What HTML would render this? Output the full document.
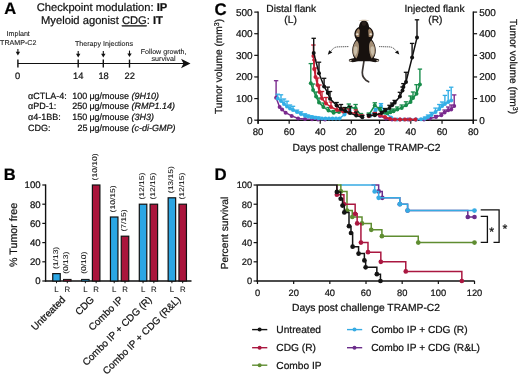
<!DOCTYPE html>
<html><head><meta charset="utf-8"><style>
html,body{margin:0;padding:0;background:#fff;}
svg{display:block;}
text{font-family:"Liberation Sans", Arial, Helvetica, sans-serif;text-rendering:geometricPrecision;stroke:#111;stroke-width:0.22px;paint-order:stroke;}
.sm{stroke-width:0.08px;}
</style></head><body>
<svg width="520" height="376" viewBox="0 0 520 376" font-family='"Liberation Sans", Arial, Helvetica, sans-serif'>
<rect width="520" height="376" fill="#ffffff"/>
<text x="4.2" y="14.3" font-size="16.5" font-weight="bold" fill="#000" >A</text>
<text x="102" y="10.8" font-size="11.2" text-anchor="middle" fill="#111">Checkpoint modulation: <tspan font-weight="bold">IP</tspan></text>
<text x="102" y="24.3" font-size="11.2" text-anchor="middle" fill="#111">Myeloid agonist <tspan text-decoration="underline">CDG</tspan>: <tspan font-weight="bold">IT</tspan></text>
<line x1="17.9" y1="63.5" x2="184" y2="63.5" stroke="#111" stroke-width="1.15" />
<path d="M181,58.8 L190.5,63.5 L181,68.2 L183.5,63.5 Z" fill="#111"/>
<line x1="17.9" y1="59.6" x2="17.9" y2="67.6" stroke="#111" stroke-width="1.4" />
<line x1="78.2" y1="59.6" x2="78.2" y2="67.6" stroke="#111" stroke-width="1.4" />
<line x1="103.3" y1="59.6" x2="103.3" y2="67.6" stroke="#111" stroke-width="1.4" />
<line x1="129.5" y1="59.6" x2="129.5" y2="67.6" stroke="#111" stroke-width="1.4" />
<line x1="17.9" y1="49.0" x2="17.9" y2="52.4" stroke="#111" stroke-width="1.1" />
<path d="M15.7,51.8 L20.099999999999998,51.8 L17.9,55.4 Z" fill="#111"/>
<line x1="78.2" y1="51.0" x2="78.2" y2="54.4" stroke="#111" stroke-width="1.1" />
<path d="M76.0,53.8 L80.4,53.8 L78.2,57.4 Z" fill="#111"/>
<line x1="103.3" y1="51.0" x2="103.3" y2="54.4" stroke="#111" stroke-width="1.1" />
<path d="M101.1,53.8 L105.5,53.8 L103.3,57.4 Z" fill="#111"/>
<line x1="129.5" y1="50.6" x2="129.5" y2="54.0" stroke="#111" stroke-width="1.1" />
<path d="M127.3,53.4 L131.7,53.4 L129.5,57.0 Z" fill="#111"/>
<text x="18.2" y="36.3" font-size="7.1" text-anchor="middle" fill="#111"  class="sm">Implant</text>
<text x="18.2" y="44.5" font-size="7.1" text-anchor="middle" fill="#111"  class="sm">TRAMP-C2</text>
<text x="104" y="46.4" font-size="7.1" text-anchor="middle" fill="#111"  class="sm">Therapy Injections</text>
<text x="163.6" y="53.8" font-size="7.1" text-anchor="middle" fill="#111"  class="sm">Follow growth,</text>
<text x="163.6" y="61.1" font-size="7.1" text-anchor="middle" fill="#111"  class="sm">survival</text>
<text x="17.7" y="79.0" font-size="9.3" text-anchor="middle" fill="#111" >0</text>
<text x="78.2" y="79.0" font-size="9.3" text-anchor="middle" fill="#111" >14</text>
<text x="103.6" y="79.0" font-size="9.3" text-anchor="middle" fill="#111" >18</text>
<text x="129.7" y="79.0" font-size="9.3" text-anchor="middle" fill="#111" >22</text>
<text x="28.0" y="98.8" font-size="9.0" fill="#111" >αCTLA-4:</text>
<text x="87.4" y="98.8" font-size="9.0" text-anchor="end" fill="#111">100</text>
<text x="89.4" y="98.8" font-size="9.0" fill="#111">μg/mouse <tspan font-style="italic">(9H10)</tspan></text>
<text x="28.0" y="109.4" font-size="9.0" fill="#111" >αPD-1:</text>
<text x="87.4" y="109.4" font-size="9.0" text-anchor="end" fill="#111">250</text>
<text x="89.4" y="109.4" font-size="9.0" fill="#111">μg/mouse <tspan font-style="italic">(RMP1.14)</tspan></text>
<text x="28.0" y="120.0" font-size="9.0" fill="#111" >α4-1BB:</text>
<text x="87.4" y="120.0" font-size="9.0" text-anchor="end" fill="#111">150</text>
<text x="89.4" y="120.0" font-size="9.0" fill="#111">μg/mouse <tspan font-style="italic">(3H3)</tspan></text>
<text x="28.0" y="130.5" font-size="9.0" fill="#111" >CDG:</text>
<text x="87.4" y="130.5" font-size="9.0" text-anchor="end" fill="#111">25</text>
<text x="89.4" y="130.5" font-size="9.0" fill="#111">μg/mouse <tspan font-style="italic">(c-di-GMP)</tspan></text>
<text x="3.8" y="179.6" font-size="16.5" font-weight="bold" fill="#000" >B</text>
<line x1="45.6" y1="184.4" x2="45.6" y2="281.6" stroke="#111" stroke-width="1.4" />
<line x1="44.9" y1="281.0" x2="191.5" y2="281.0" stroke="#111" stroke-width="1.4" />
<line x1="42.3" y1="281.0" x2="45.6" y2="281.0" stroke="#111" stroke-width="1.2" />
<text x="40.6" y="284.4" font-size="9.6" text-anchor="end" fill="#111">0</text>
<line x1="42.3" y1="261.8" x2="45.6" y2="261.8" stroke="#111" stroke-width="1.2" />
<text x="40.6" y="265.2" font-size="9.6" text-anchor="end" fill="#111">20</text>
<line x1="42.3" y1="242.6" x2="45.6" y2="242.6" stroke="#111" stroke-width="1.2" />
<text x="40.6" y="246.0" font-size="9.6" text-anchor="end" fill="#111">40</text>
<line x1="42.3" y1="223.4" x2="45.6" y2="223.4" stroke="#111" stroke-width="1.2" />
<text x="40.6" y="226.8" font-size="9.6" text-anchor="end" fill="#111">60</text>
<line x1="42.3" y1="204.2" x2="45.6" y2="204.2" stroke="#111" stroke-width="1.2" />
<text x="40.6" y="207.6" font-size="9.6" text-anchor="end" fill="#111">80</text>
<line x1="42.3" y1="185.0" x2="45.6" y2="185.0" stroke="#111" stroke-width="1.2" />
<text x="40.6" y="188.4" font-size="9.6" text-anchor="end" fill="#111">100</text>
<text transform="translate(17.2,234.9) rotate(-90)" font-size="10.7" text-anchor="middle" fill="#111">% Tumor free</text>
<rect x="52.75" y="273.62" width="7.5" height="7.38" fill="#2ba6e4" stroke="#111" stroke-width="1.2"/>
<line x1="56.5" y1="281" x2="56.5" y2="283.2" stroke="#111" stroke-width="1.0" />
<text transform="translate(57.55,269.02) rotate(-90) scale(1.15,0.93)" font-size="7.4" fill="#111" class="sm">(1/13)</text>
<text x="56.50" y="291.8" font-size="7.8" text-anchor="middle" fill="#111"  class="sm">L</text>
<rect x="63.55" y="279.40" width="7.5" height="1.6" fill="#aa153c" stroke="#111" stroke-width="1.0"/>
<line x1="67.3" y1="281" x2="67.3" y2="283.2" stroke="#111" stroke-width="1.0" />
<text transform="translate(68.35,273.80) rotate(-90) scale(1.15,0.93)" font-size="7.4" fill="#111" class="sm">(0/13)</text>
<text x="67.30" y="291.8" font-size="7.8" text-anchor="middle" fill="#111"  class="sm">R</text>
<text transform="translate(65.90,300.3) rotate(-45)" font-size="9.9" text-anchor="end" fill="#111">Untreated</text>
<rect x="81.60" y="279.40" width="7.5" height="1.6" fill="#2ba6e4" stroke="#111" stroke-width="1.0"/>
<line x1="85.35" y1="281" x2="85.35" y2="283.2" stroke="#111" stroke-width="1.0" />
<text transform="translate(86.40,273.80) rotate(-90) scale(1.15,0.93)" font-size="7.4" fill="#111" class="sm">(0/10)</text>
<text x="85.35" y="291.8" font-size="7.8" text-anchor="middle" fill="#111"  class="sm">L</text>
<rect x="92.40" y="185.00" width="7.5" height="96.00" fill="#aa153c" stroke="#111" stroke-width="1.2"/>
<line x1="96.14999999999999" y1="281" x2="96.14999999999999" y2="283.2" stroke="#111" stroke-width="1.0" />
<text transform="translate(97.20,180.40) rotate(-90) scale(1.15,0.93)" font-size="7.4" fill="#111" class="sm">(10/10)</text>
<text x="96.15" y="291.8" font-size="7.8" text-anchor="middle" fill="#111"  class="sm">R</text>
<text transform="translate(94.75,300.3) rotate(-45)" font-size="9.9" text-anchor="end" fill="#111">CDG</text>
<rect x="110.45" y="217.00" width="7.5" height="64.00" fill="#2ba6e4" stroke="#111" stroke-width="1.2"/>
<line x1="114.2" y1="281" x2="114.2" y2="283.2" stroke="#111" stroke-width="1.0" />
<text transform="translate(115.25,212.40) rotate(-90) scale(1.15,0.93)" font-size="7.4" fill="#111" class="sm">(10/15)</text>
<text x="114.20" y="291.8" font-size="7.8" text-anchor="middle" fill="#111"  class="sm">L</text>
<rect x="121.25" y="236.20" width="7.5" height="44.80" fill="#aa153c" stroke="#111" stroke-width="1.2"/>
<line x1="125.0" y1="281" x2="125.0" y2="283.2" stroke="#111" stroke-width="1.0" />
<text transform="translate(126.05,231.60) rotate(-90) scale(1.15,0.93)" font-size="7.4" fill="#111" class="sm">(7/15)</text>
<text x="125.00" y="291.8" font-size="7.8" text-anchor="middle" fill="#111"  class="sm">R</text>
<text transform="translate(123.60,300.3) rotate(-45)" font-size="9.9" text-anchor="end" fill="#111">Combo IP</text>
<rect x="139.30" y="204.20" width="7.5" height="76.80" fill="#2ba6e4" stroke="#111" stroke-width="1.2"/>
<line x1="143.05" y1="281" x2="143.05" y2="283.2" stroke="#111" stroke-width="1.0" />
<text transform="translate(144.10,199.60) rotate(-90) scale(1.15,0.93)" font-size="7.4" fill="#111" class="sm">(12/15)</text>
<text x="143.05" y="291.8" font-size="7.8" text-anchor="middle" fill="#111"  class="sm">L</text>
<rect x="150.10" y="204.20" width="7.5" height="76.80" fill="#aa153c" stroke="#111" stroke-width="1.2"/>
<line x1="153.85000000000002" y1="281" x2="153.85000000000002" y2="283.2" stroke="#111" stroke-width="1.0" />
<text transform="translate(154.90,199.60) rotate(-90) scale(1.15,0.93)" font-size="7.4" fill="#111" class="sm">(12/15)</text>
<text x="153.85" y="291.8" font-size="7.8" text-anchor="middle" fill="#111"  class="sm">R</text>
<text transform="translate(152.45,300.3) rotate(-45)" font-size="9.9" text-anchor="end" fill="#111">Combo IP + CDG (R)</text>
<rect x="168.15" y="197.80" width="7.5" height="83.20" fill="#2ba6e4" stroke="#111" stroke-width="1.2"/>
<line x1="171.9" y1="281" x2="171.9" y2="283.2" stroke="#111" stroke-width="1.0" />
<text transform="translate(172.95,193.20) rotate(-90) scale(1.15,0.93)" font-size="7.4" fill="#111" class="sm">(13/15)</text>
<text x="171.90" y="291.8" font-size="7.8" text-anchor="middle" fill="#111"  class="sm">L</text>
<rect x="178.95" y="204.20" width="7.5" height="76.80" fill="#aa153c" stroke="#111" stroke-width="1.2"/>
<line x1="182.70000000000002" y1="281" x2="182.70000000000002" y2="283.2" stroke="#111" stroke-width="1.0" />
<text transform="translate(183.75,199.60) rotate(-90) scale(1.15,0.93)" font-size="7.4" fill="#111" class="sm">(12/15)</text>
<text x="182.70" y="291.8" font-size="7.8" text-anchor="middle" fill="#111"  class="sm">R</text>
<text transform="translate(181.30,300.3) rotate(-45)" font-size="9.9" text-anchor="end" fill="#111">Combo IP + CDG (R&amp;L)</text>
<text x="214.6" y="14.9" font-size="16.8" font-weight="bold" fill="#000" >C</text>
<line x1="258.1" y1="11.5" x2="258.1" y2="123.8" stroke="#111" stroke-width="1.4" />
<line x1="254.3" y1="120.2" x2="258.1" y2="120.2" stroke="#111" stroke-width="1.2" />
<text x="252.6" y="123.65" font-size="10" text-anchor="end" fill="#111">0</text>
<line x1="254.3" y1="98.58" x2="258.1" y2="98.58" stroke="#111" stroke-width="1.2" />
<text x="252.6" y="102.03" font-size="10" text-anchor="end" fill="#111">100</text>
<line x1="254.3" y1="76.96000000000001" x2="258.1" y2="76.96000000000001" stroke="#111" stroke-width="1.2" />
<text x="252.6" y="80.41" font-size="10" text-anchor="end" fill="#111">200</text>
<line x1="254.3" y1="55.34" x2="258.1" y2="55.34" stroke="#111" stroke-width="1.2" />
<text x="252.6" y="58.79" font-size="10" text-anchor="end" fill="#111">300</text>
<line x1="254.3" y1="33.72" x2="258.1" y2="33.72" stroke="#111" stroke-width="1.2" />
<text x="252.6" y="37.17" font-size="10" text-anchor="end" fill="#111">400</text>
<line x1="254.3" y1="12.099999999999994" x2="258.1" y2="12.099999999999994" stroke="#111" stroke-width="1.2" />
<text x="252.6" y="15.55" font-size="10" text-anchor="end" fill="#111">500</text>
<line x1="473.3" y1="11.5" x2="473.3" y2="123.8" stroke="#111" stroke-width="1.4" />
<line x1="473.3" y1="120.2" x2="477.1" y2="120.2" stroke="#111" stroke-width="1.2" />
<text x="479.2" y="123.65" font-size="10" fill="#111">0</text>
<line x1="473.3" y1="98.58" x2="477.1" y2="98.58" stroke="#111" stroke-width="1.2" />
<text x="479.2" y="102.03" font-size="10" fill="#111">100</text>
<line x1="473.3" y1="76.96000000000001" x2="477.1" y2="76.96000000000001" stroke="#111" stroke-width="1.2" />
<text x="479.2" y="80.41" font-size="10" fill="#111">200</text>
<line x1="473.3" y1="55.34" x2="477.1" y2="55.34" stroke="#111" stroke-width="1.2" />
<text x="479.2" y="58.79" font-size="10" fill="#111">300</text>
<line x1="473.3" y1="33.72" x2="477.1" y2="33.72" stroke="#111" stroke-width="1.2" />
<text x="479.2" y="37.17" font-size="10" fill="#111">400</text>
<line x1="473.3" y1="12.099999999999994" x2="477.1" y2="12.099999999999994" stroke="#111" stroke-width="1.2" />
<text x="479.2" y="15.55" font-size="10" fill="#111">500</text>
<line x1="257.40000000000003" y1="120.2" x2="474.0" y2="120.2" stroke="#111" stroke-width="1.4" />
<line x1="258.1" y1="120.2" x2="258.1" y2="123.8" stroke="#111" stroke-width="1.2" />
<text x="258.10" y="135.4" font-size="9.6" text-anchor="middle" fill="#111" >80</text>
<line x1="289.17" y1="120.2" x2="289.17" y2="123.8" stroke="#111" stroke-width="1.2" />
<text x="289.17" y="135.4" font-size="9.6" text-anchor="middle" fill="#111" >60</text>
<line x1="320.24" y1="120.2" x2="320.24" y2="123.8" stroke="#111" stroke-width="1.2" />
<text x="320.24" y="135.4" font-size="9.6" text-anchor="middle" fill="#111" >40</text>
<line x1="351.31000000000006" y1="120.2" x2="351.31000000000006" y2="123.8" stroke="#111" stroke-width="1.2" />
<text x="351.31" y="135.4" font-size="9.6" text-anchor="middle" fill="#111" >20</text>
<line x1="379.5" y1="120.2" x2="379.5" y2="123.8" stroke="#111" stroke-width="1.2" />
<text x="379.50" y="135.4" font-size="9.6" text-anchor="middle" fill="#111" >20</text>
<line x1="410.77" y1="120.2" x2="410.77" y2="123.8" stroke="#111" stroke-width="1.2" />
<text x="410.77" y="135.4" font-size="9.6" text-anchor="middle" fill="#111" >40</text>
<line x1="442.04" y1="120.2" x2="442.04" y2="123.8" stroke="#111" stroke-width="1.2" />
<text x="442.04" y="135.4" font-size="9.6" text-anchor="middle" fill="#111" >60</text>
<line x1="473.31" y1="120.2" x2="473.31" y2="123.8" stroke="#111" stroke-width="1.2" />
<text x="473.31" y="135.4" font-size="9.6" text-anchor="middle" fill="#111" >80</text>
<text x="366.5" y="150.8" font-size="10.3" text-anchor="middle" fill="#111" >Days post challenge TRAMP-C2</text>
<text x="291.2" y="12.0" font-size="10.2" text-anchor="middle" fill="#111" >Distal flank</text>
<text x="290.6" y="23.2" font-size="10.2" text-anchor="middle" fill="#111" >(L)</text>
<text x="434.5" y="12.0" font-size="10.2" text-anchor="middle" fill="#111" >Injected flank</text>
<text x="435.4" y="23.2" font-size="10.2" text-anchor="middle" fill="#111" >(R)</text>
<text transform="translate(222.0,66.5) rotate(-90)" font-size="10.2" text-anchor="middle" fill="#111">Tumor volume (mm<tspan font-size="7" dy="-3.5">3</tspan><tspan dy="3.5">)</tspan></text>
<text transform="translate(509.8,66.5) rotate(90)" font-size="10.2" text-anchor="middle" fill="#111">Tumor volume (mm<tspan font-size="7" dy="-3.5">3</tspan><tspan dy="3.5">)</tspan></text>
<polyline points="325,119.6 318,119.4 312,119.2 305,118.9 298.1,118.4 291.7,115.9 285.6,112.7 282.1,109.5 279.6,106.9 276.1,97.7" fill="none" stroke="#7a2a8e" stroke-width="1.5"/>
<line x1="276.1" y1="97.7" x2="276.1" y2="80.7" stroke="#7a2a8e" stroke-width="1.4"/>
<line x1="273.90000000000003" y1="80.7" x2="278.3" y2="80.7" stroke="#7a2a8e" stroke-width="1.3"/>
<circle cx="325" cy="119.6" r="2.0" fill="#7a2a8e"/>
<circle cx="318" cy="119.4" r="2.0" fill="#7a2a8e"/>
<circle cx="312" cy="119.2" r="2.0" fill="#7a2a8e"/>
<circle cx="305" cy="118.9" r="2.0" fill="#7a2a8e"/>
<circle cx="298.1" cy="118.4" r="2.0" fill="#7a2a8e"/>
<circle cx="291.7" cy="115.9" r="2.0" fill="#7a2a8e"/>
<circle cx="285.6" cy="112.7" r="2.0" fill="#7a2a8e"/>
<circle cx="282.1" cy="109.5" r="2.0" fill="#7a2a8e"/>
<circle cx="279.6" cy="106.9" r="2.0" fill="#7a2a8e"/>
<circle cx="276.1" cy="97.7" r="2.0" fill="#7a2a8e"/>
<polyline points="349.5,110.2 344.5,114.5 339.5,118.6 336,118.6 332.5,118.6 329,118.6 325.5,118.5 322,118.4 318.5,118.2 315,117.8 311.5,117.3 308,116.6 305,115.8 301,114.0 297,112.0 293,110.0 290,108.5 287,106.5 284,104.0 281,101.0 277.7,98.6" fill="none" stroke="#33aee6" stroke-width="1.5"/>
<line x1="349.5" y1="110.2" x2="349.5" y2="108" stroke="#33aee6" stroke-width="1.4"/>
<line x1="347.3" y1="108" x2="351.7" y2="108" stroke="#33aee6" stroke-width="1.3"/>
<line x1="344.5" y1="114.5" x2="344.5" y2="112.5" stroke="#33aee6" stroke-width="1.4"/>
<line x1="342.3" y1="112.5" x2="346.7" y2="112.5" stroke="#33aee6" stroke-width="1.3"/>
<line x1="318.5" y1="118.2" x2="318.5" y2="117" stroke="#33aee6" stroke-width="1.4"/>
<line x1="316.3" y1="117" x2="320.7" y2="117" stroke="#33aee6" stroke-width="1.3"/>
<line x1="315" y1="117.8" x2="315" y2="116.5" stroke="#33aee6" stroke-width="1.4"/>
<line x1="312.8" y1="116.5" x2="317.2" y2="116.5" stroke="#33aee6" stroke-width="1.3"/>
<line x1="311.5" y1="117.3" x2="311.5" y2="115.8" stroke="#33aee6" stroke-width="1.4"/>
<line x1="309.3" y1="115.8" x2="313.7" y2="115.8" stroke="#33aee6" stroke-width="1.3"/>
<line x1="308" y1="116.6" x2="308" y2="115" stroke="#33aee6" stroke-width="1.4"/>
<line x1="305.8" y1="115" x2="310.2" y2="115" stroke="#33aee6" stroke-width="1.3"/>
<line x1="305" y1="115.8" x2="305" y2="113.8" stroke="#33aee6" stroke-width="1.4"/>
<line x1="302.8" y1="113.8" x2="307.2" y2="113.8" stroke="#33aee6" stroke-width="1.3"/>
<line x1="301" y1="114.0" x2="301" y2="111.8" stroke="#33aee6" stroke-width="1.4"/>
<line x1="298.8" y1="111.8" x2="303.2" y2="111.8" stroke="#33aee6" stroke-width="1.3"/>
<line x1="297" y1="112.0" x2="297" y2="110.1" stroke="#33aee6" stroke-width="1.4"/>
<line x1="294.8" y1="110.1" x2="299.2" y2="110.1" stroke="#33aee6" stroke-width="1.3"/>
<line x1="293" y1="110.0" x2="293" y2="106.3" stroke="#33aee6" stroke-width="1.4"/>
<line x1="290.8" y1="106.3" x2="295.2" y2="106.3" stroke="#33aee6" stroke-width="1.3"/>
<line x1="290" y1="108.5" x2="290" y2="105" stroke="#33aee6" stroke-width="1.4"/>
<line x1="287.8" y1="105" x2="292.2" y2="105" stroke="#33aee6" stroke-width="1.3"/>
<line x1="287" y1="106.5" x2="287" y2="101.2" stroke="#33aee6" stroke-width="1.4"/>
<line x1="284.8" y1="101.2" x2="289.2" y2="101.2" stroke="#33aee6" stroke-width="1.3"/>
<line x1="284" y1="104.0" x2="284" y2="99.0" stroke="#33aee6" stroke-width="1.4"/>
<line x1="281.8" y1="99.0" x2="286.2" y2="99.0" stroke="#33aee6" stroke-width="1.3"/>
<line x1="281" y1="101.0" x2="281" y2="94.8" stroke="#33aee6" stroke-width="1.4"/>
<line x1="278.8" y1="94.8" x2="283.2" y2="94.8" stroke="#33aee6" stroke-width="1.3"/>
<line x1="277.7" y1="98.6" x2="277.7" y2="94.2" stroke="#33aee6" stroke-width="1.4"/>
<line x1="275.5" y1="94.2" x2="279.9" y2="94.2" stroke="#33aee6" stroke-width="1.3"/>
<circle cx="349.5" cy="110.2" r="2.0" fill="#33aee6"/>
<circle cx="344.5" cy="114.5" r="2.0" fill="#33aee6"/>
<circle cx="339.5" cy="118.6" r="2.0" fill="#33aee6"/>
<circle cx="336" cy="118.6" r="2.0" fill="#33aee6"/>
<circle cx="332.5" cy="118.6" r="2.0" fill="#33aee6"/>
<circle cx="329" cy="118.6" r="2.0" fill="#33aee6"/>
<circle cx="325.5" cy="118.5" r="2.0" fill="#33aee6"/>
<circle cx="322" cy="118.4" r="2.0" fill="#33aee6"/>
<circle cx="318.5" cy="118.2" r="2.0" fill="#33aee6"/>
<circle cx="315" cy="117.8" r="2.0" fill="#33aee6"/>
<circle cx="311.5" cy="117.3" r="2.0" fill="#33aee6"/>
<circle cx="308" cy="116.6" r="2.0" fill="#33aee6"/>
<circle cx="305" cy="115.8" r="2.0" fill="#33aee6"/>
<circle cx="301" cy="114.0" r="2.0" fill="#33aee6"/>
<circle cx="297" cy="112.0" r="2.0" fill="#33aee6"/>
<circle cx="293" cy="110.0" r="2.0" fill="#33aee6"/>
<circle cx="290" cy="108.5" r="2.0" fill="#33aee6"/>
<circle cx="287" cy="106.5" r="2.0" fill="#33aee6"/>
<circle cx="284" cy="104.0" r="2.0" fill="#33aee6"/>
<circle cx="281" cy="101.0" r="2.0" fill="#33aee6"/>
<circle cx="277.7" cy="98.6" r="2.0" fill="#33aee6"/>
<polyline points="361,115.5 355.6,108.3 348.8,107.2 344,110.0 339,112.0 333.6,112.7 328.5,110.5 323.4,106.9 319,102.5 316.1,96.6 313.1,90.0 310.8,83.2" fill="none" stroke="#178c4a" stroke-width="1.5"/>
<line x1="361" y1="115.5" x2="361" y2="113.5" stroke="#178c4a" stroke-width="1.4"/>
<line x1="358.8" y1="113.5" x2="363.2" y2="113.5" stroke="#178c4a" stroke-width="1.3"/>
<line x1="355.6" y1="108.3" x2="355.6" y2="104.5" stroke="#178c4a" stroke-width="1.4"/>
<line x1="353.40000000000003" y1="104.5" x2="357.8" y2="104.5" stroke="#178c4a" stroke-width="1.3"/>
<line x1="348.8" y1="107.2" x2="348.8" y2="104" stroke="#178c4a" stroke-width="1.4"/>
<line x1="346.6" y1="104" x2="351.0" y2="104" stroke="#178c4a" stroke-width="1.3"/>
<line x1="344" y1="110.0" x2="344" y2="107.5" stroke="#178c4a" stroke-width="1.4"/>
<line x1="341.8" y1="107.5" x2="346.2" y2="107.5" stroke="#178c4a" stroke-width="1.3"/>
<line x1="339" y1="112.0" x2="339" y2="110" stroke="#178c4a" stroke-width="1.4"/>
<line x1="336.8" y1="110" x2="341.2" y2="110" stroke="#178c4a" stroke-width="1.3"/>
<line x1="333.6" y1="112.7" x2="333.6" y2="110.5" stroke="#178c4a" stroke-width="1.4"/>
<line x1="331.40000000000003" y1="110.5" x2="335.8" y2="110.5" stroke="#178c4a" stroke-width="1.3"/>
<line x1="328.5" y1="110.5" x2="328.5" y2="107.5" stroke="#178c4a" stroke-width="1.4"/>
<line x1="326.3" y1="107.5" x2="330.7" y2="107.5" stroke="#178c4a" stroke-width="1.3"/>
<line x1="323.4" y1="106.9" x2="323.4" y2="103" stroke="#178c4a" stroke-width="1.4"/>
<line x1="321.2" y1="103" x2="325.59999999999997" y2="103" stroke="#178c4a" stroke-width="1.3"/>
<line x1="319" y1="102.5" x2="319" y2="98" stroke="#178c4a" stroke-width="1.4"/>
<line x1="316.8" y1="98" x2="321.2" y2="98" stroke="#178c4a" stroke-width="1.3"/>
<line x1="316.1" y1="96.6" x2="316.1" y2="92" stroke="#178c4a" stroke-width="1.4"/>
<line x1="313.90000000000003" y1="92" x2="318.3" y2="92" stroke="#178c4a" stroke-width="1.3"/>
<line x1="313.1" y1="90.0" x2="313.1" y2="84" stroke="#178c4a" stroke-width="1.4"/>
<line x1="310.90000000000003" y1="84" x2="315.3" y2="84" stroke="#178c4a" stroke-width="1.3"/>
<line x1="310.8" y1="83.2" x2="310.8" y2="63.6" stroke="#178c4a" stroke-width="1.4"/>
<line x1="308.6" y1="63.6" x2="313.0" y2="63.6" stroke="#178c4a" stroke-width="1.3"/>
<circle cx="361" cy="115.5" r="2.0" fill="#178c4a"/>
<circle cx="355.6" cy="108.3" r="2.0" fill="#178c4a"/>
<circle cx="348.8" cy="107.2" r="2.0" fill="#178c4a"/>
<circle cx="344" cy="110.0" r="2.0" fill="#178c4a"/>
<circle cx="339" cy="112.0" r="2.0" fill="#178c4a"/>
<circle cx="333.6" cy="112.7" r="2.0" fill="#178c4a"/>
<circle cx="328.5" cy="110.5" r="2.0" fill="#178c4a"/>
<circle cx="323.4" cy="106.9" r="2.0" fill="#178c4a"/>
<circle cx="319" cy="102.5" r="2.0" fill="#178c4a"/>
<circle cx="316.1" cy="96.6" r="2.0" fill="#178c4a"/>
<circle cx="313.1" cy="90.0" r="2.0" fill="#178c4a"/>
<circle cx="310.8" cy="83.2" r="2.0" fill="#178c4a"/>
<polyline points="362,116.5 355.8,113.3 349,112.5 343,111.5 337,110.0 331,107.0 326,103.5 322,98.5 319.5,92.0 317.5,85.0 315.5,77.0 314.2,69.0 313.4,56.0" fill="none" stroke="#c61f33" stroke-width="1.5"/>
<line x1="362" y1="116.5" x2="362" y2="115" stroke="#c61f33" stroke-width="1.4"/>
<line x1="359.8" y1="115" x2="364.2" y2="115" stroke="#c61f33" stroke-width="1.3"/>
<line x1="355.8" y1="113.3" x2="355.8" y2="110" stroke="#c61f33" stroke-width="1.4"/>
<line x1="353.6" y1="110" x2="358.0" y2="110" stroke="#c61f33" stroke-width="1.3"/>
<line x1="349" y1="112.5" x2="349" y2="109" stroke="#c61f33" stroke-width="1.4"/>
<line x1="346.8" y1="109" x2="351.2" y2="109" stroke="#c61f33" stroke-width="1.3"/>
<line x1="343" y1="111.5" x2="343" y2="108" stroke="#c61f33" stroke-width="1.4"/>
<line x1="340.8" y1="108" x2="345.2" y2="108" stroke="#c61f33" stroke-width="1.3"/>
<line x1="337" y1="110.0" x2="337" y2="105.5" stroke="#c61f33" stroke-width="1.4"/>
<line x1="334.8" y1="105.5" x2="339.2" y2="105.5" stroke="#c61f33" stroke-width="1.3"/>
<line x1="331" y1="107.0" x2="331" y2="102" stroke="#c61f33" stroke-width="1.4"/>
<line x1="328.8" y1="102" x2="333.2" y2="102" stroke="#c61f33" stroke-width="1.3"/>
<line x1="326" y1="103.5" x2="326" y2="97.5" stroke="#c61f33" stroke-width="1.4"/>
<line x1="323.8" y1="97.5" x2="328.2" y2="97.5" stroke="#c61f33" stroke-width="1.3"/>
<line x1="322" y1="98.5" x2="322" y2="91.5" stroke="#c61f33" stroke-width="1.4"/>
<line x1="319.8" y1="91.5" x2="324.2" y2="91.5" stroke="#c61f33" stroke-width="1.3"/>
<line x1="319.5" y1="92.0" x2="319.5" y2="85" stroke="#c61f33" stroke-width="1.4"/>
<line x1="317.3" y1="85" x2="321.7" y2="85" stroke="#c61f33" stroke-width="1.3"/>
<line x1="317.5" y1="85.0" x2="317.5" y2="78" stroke="#c61f33" stroke-width="1.4"/>
<line x1="315.3" y1="78" x2="319.7" y2="78" stroke="#c61f33" stroke-width="1.3"/>
<line x1="315.5" y1="77.0" x2="315.5" y2="68" stroke="#c61f33" stroke-width="1.4"/>
<line x1="313.3" y1="68" x2="317.7" y2="68" stroke="#c61f33" stroke-width="1.3"/>
<line x1="314.2" y1="69.0" x2="314.2" y2="60" stroke="#c61f33" stroke-width="1.4"/>
<line x1="312.0" y1="60" x2="316.4" y2="60" stroke="#c61f33" stroke-width="1.3"/>
<line x1="313.4" y1="56.0" x2="313.4" y2="45" stroke="#c61f33" stroke-width="1.4"/>
<line x1="311.2" y1="45" x2="315.59999999999997" y2="45" stroke="#c61f33" stroke-width="1.3"/>
<circle cx="362" cy="116.5" r="2.0" fill="#c61f33"/>
<circle cx="355.8" cy="113.3" r="2.0" fill="#c61f33"/>
<circle cx="349" cy="112.5" r="2.0" fill="#c61f33"/>
<circle cx="343" cy="111.5" r="2.0" fill="#c61f33"/>
<circle cx="337" cy="110.0" r="2.0" fill="#c61f33"/>
<circle cx="331" cy="107.0" r="2.0" fill="#c61f33"/>
<circle cx="326" cy="103.5" r="2.0" fill="#c61f33"/>
<circle cx="322" cy="98.5" r="2.0" fill="#c61f33"/>
<circle cx="319.5" cy="92.0" r="2.0" fill="#c61f33"/>
<circle cx="317.5" cy="85.0" r="2.0" fill="#c61f33"/>
<circle cx="315.5" cy="77.0" r="2.0" fill="#c61f33"/>
<circle cx="314.2" cy="69.0" r="2.0" fill="#c61f33"/>
<circle cx="313.4" cy="56.0" r="2.0" fill="#c61f33"/>
<polyline points="362.3,117.3 356.2,115.6 350.1,113.1 345.3,111.0 341,109.0 336.6,105.4 330,98.8 327.8,93.0 324.1,86.4 319,73.2 313.7,53.0" fill="none" stroke="#111111" stroke-width="1.5"/>
<line x1="362.3" y1="117.3" x2="362.3" y2="115.5" stroke="#111111" stroke-width="1.4"/>
<line x1="360.1" y1="115.5" x2="364.5" y2="115.5" stroke="#111111" stroke-width="1.3"/>
<line x1="356.2" y1="115.6" x2="356.2" y2="112" stroke="#111111" stroke-width="1.4"/>
<line x1="354.0" y1="112" x2="358.4" y2="112" stroke="#111111" stroke-width="1.3"/>
<line x1="350.1" y1="113.1" x2="350.1" y2="106.3" stroke="#111111" stroke-width="1.4"/>
<line x1="347.90000000000003" y1="106.3" x2="352.3" y2="106.3" stroke="#111111" stroke-width="1.3"/>
<line x1="345.3" y1="111.0" x2="345.3" y2="107.6" stroke="#111111" stroke-width="1.4"/>
<line x1="343.1" y1="107.6" x2="347.5" y2="107.6" stroke="#111111" stroke-width="1.3"/>
<line x1="341" y1="109.0" x2="341" y2="104.5" stroke="#111111" stroke-width="1.4"/>
<line x1="338.8" y1="104.5" x2="343.2" y2="104.5" stroke="#111111" stroke-width="1.3"/>
<line x1="336.6" y1="105.4" x2="336.6" y2="102.5" stroke="#111111" stroke-width="1.4"/>
<line x1="334.40000000000003" y1="102.5" x2="338.8" y2="102.5" stroke="#111111" stroke-width="1.3"/>
<line x1="330" y1="98.8" x2="330" y2="91.5" stroke="#111111" stroke-width="1.4"/>
<line x1="327.8" y1="91.5" x2="332.2" y2="91.5" stroke="#111111" stroke-width="1.3"/>
<line x1="327.8" y1="93.0" x2="327.8" y2="87.1" stroke="#111111" stroke-width="1.4"/>
<line x1="325.6" y1="87.1" x2="330.0" y2="87.1" stroke="#111111" stroke-width="1.3"/>
<line x1="324.1" y1="86.4" x2="324.1" y2="78.3" stroke="#111111" stroke-width="1.4"/>
<line x1="321.90000000000003" y1="78.3" x2="326.3" y2="78.3" stroke="#111111" stroke-width="1.3"/>
<line x1="319" y1="73.2" x2="319" y2="62.2" stroke="#111111" stroke-width="1.4"/>
<line x1="316.8" y1="62.2" x2="321.2" y2="62.2" stroke="#111111" stroke-width="1.3"/>
<line x1="313.7" y1="53.0" x2="313.7" y2="38.3" stroke="#111111" stroke-width="1.4"/>
<line x1="311.5" y1="38.3" x2="315.9" y2="38.3" stroke="#111111" stroke-width="1.3"/>
<circle cx="362.3" cy="117.3" r="2.0" fill="#111111"/>
<circle cx="356.2" cy="115.6" r="2.0" fill="#111111"/>
<circle cx="350.1" cy="113.1" r="2.0" fill="#111111"/>
<circle cx="345.3" cy="111.0" r="2.0" fill="#111111"/>
<circle cx="341" cy="109.0" r="2.0" fill="#111111"/>
<circle cx="336.6" cy="105.4" r="2.0" fill="#111111"/>
<circle cx="330" cy="98.8" r="2.0" fill="#111111"/>
<circle cx="327.8" cy="93.0" r="2.0" fill="#111111"/>
<circle cx="324.1" cy="86.4" r="2.0" fill="#111111"/>
<circle cx="319" cy="73.2" r="2.0" fill="#111111"/>
<circle cx="313.7" cy="53.0" r="2.0" fill="#111111"/>
<polyline points="380,116 386,118.5 392,119.5 400,119.6 408,119.6 416,119.6 424,119.6 430,118.5 436,117 441.3,115.2 444.6,112.4 448.2,110.2 451.2,109.4 454.2,106.1" fill="none" stroke="#7a2a8e" stroke-width="1.5"/>
<line x1="380" y1="116" x2="380" y2="114" stroke="#7a2a8e" stroke-width="1.4"/>
<line x1="377.8" y1="114" x2="382.2" y2="114" stroke="#7a2a8e" stroke-width="1.3"/>
<line x1="436" y1="117" x2="436" y2="115.5" stroke="#7a2a8e" stroke-width="1.4"/>
<line x1="433.8" y1="115.5" x2="438.2" y2="115.5" stroke="#7a2a8e" stroke-width="1.3"/>
<line x1="441.3" y1="115.2" x2="441.3" y2="113" stroke="#7a2a8e" stroke-width="1.4"/>
<line x1="439.1" y1="113" x2="443.5" y2="113" stroke="#7a2a8e" stroke-width="1.3"/>
<line x1="444.6" y1="112.4" x2="444.6" y2="110" stroke="#7a2a8e" stroke-width="1.4"/>
<line x1="442.40000000000003" y1="110" x2="446.8" y2="110" stroke="#7a2a8e" stroke-width="1.3"/>
<line x1="448.2" y1="110.2" x2="448.2" y2="107" stroke="#7a2a8e" stroke-width="1.4"/>
<line x1="446.0" y1="107" x2="450.4" y2="107" stroke="#7a2a8e" stroke-width="1.3"/>
<line x1="451.2" y1="109.4" x2="451.2" y2="105" stroke="#7a2a8e" stroke-width="1.4"/>
<line x1="449.0" y1="105" x2="453.4" y2="105" stroke="#7a2a8e" stroke-width="1.3"/>
<line x1="454.2" y1="106.1" x2="454.2" y2="94.9" stroke="#7a2a8e" stroke-width="1.4"/>
<line x1="452.0" y1="94.9" x2="456.4" y2="94.9" stroke="#7a2a8e" stroke-width="1.3"/>
<circle cx="380" cy="116" r="2.0" fill="#7a2a8e"/>
<circle cx="386" cy="118.5" r="2.0" fill="#7a2a8e"/>
<circle cx="392" cy="119.5" r="2.0" fill="#7a2a8e"/>
<circle cx="400" cy="119.6" r="2.0" fill="#7a2a8e"/>
<circle cx="408" cy="119.6" r="2.0" fill="#7a2a8e"/>
<circle cx="416" cy="119.6" r="2.0" fill="#7a2a8e"/>
<circle cx="424" cy="119.6" r="2.0" fill="#7a2a8e"/>
<circle cx="430" cy="118.5" r="2.0" fill="#7a2a8e"/>
<circle cx="436" cy="117" r="2.0" fill="#7a2a8e"/>
<circle cx="441.3" cy="115.2" r="2.0" fill="#7a2a8e"/>
<circle cx="444.6" cy="112.4" r="2.0" fill="#7a2a8e"/>
<circle cx="448.2" cy="110.2" r="2.0" fill="#7a2a8e"/>
<circle cx="451.2" cy="109.4" r="2.0" fill="#7a2a8e"/>
<circle cx="454.2" cy="106.1" r="2.0" fill="#7a2a8e"/>
<polyline points="370,116 375.5,110.5 381,106 386,113 391,117.5 397,119.4 404,119.6 410,119.6 416,119.6 421,119.3 425,118.5 428,117 431.4,115 435.5,112 439.3,109 442.1,106 444.9,104 448.2,102 451.2,100.4" fill="none" stroke="#33aee6" stroke-width="1.5"/>
<line x1="375.5" y1="110.5" x2="375.5" y2="108.5" stroke="#33aee6" stroke-width="1.4"/>
<line x1="373.3" y1="108.5" x2="377.7" y2="108.5" stroke="#33aee6" stroke-width="1.3"/>
<line x1="381" y1="106" x2="381" y2="103.6" stroke="#33aee6" stroke-width="1.4"/>
<line x1="378.8" y1="103.6" x2="383.2" y2="103.6" stroke="#33aee6" stroke-width="1.3"/>
<line x1="386" y1="113" x2="386" y2="111" stroke="#33aee6" stroke-width="1.4"/>
<line x1="383.8" y1="111" x2="388.2" y2="111" stroke="#33aee6" stroke-width="1.3"/>
<line x1="425" y1="118.5" x2="425" y2="117" stroke="#33aee6" stroke-width="1.4"/>
<line x1="422.8" y1="117" x2="427.2" y2="117" stroke="#33aee6" stroke-width="1.3"/>
<line x1="428" y1="117" x2="428" y2="115" stroke="#33aee6" stroke-width="1.4"/>
<line x1="425.8" y1="115" x2="430.2" y2="115" stroke="#33aee6" stroke-width="1.3"/>
<line x1="431.4" y1="115" x2="431.4" y2="112.4" stroke="#33aee6" stroke-width="1.4"/>
<line x1="429.2" y1="112.4" x2="433.59999999999997" y2="112.4" stroke="#33aee6" stroke-width="1.3"/>
<line x1="435.5" y1="112" x2="435.5" y2="108.1" stroke="#33aee6" stroke-width="1.4"/>
<line x1="433.3" y1="108.1" x2="437.7" y2="108.1" stroke="#33aee6" stroke-width="1.3"/>
<line x1="439.3" y1="109" x2="439.3" y2="104.5" stroke="#33aee6" stroke-width="1.4"/>
<line x1="437.1" y1="104.5" x2="441.5" y2="104.5" stroke="#33aee6" stroke-width="1.3"/>
<line x1="442.1" y1="106" x2="442.1" y2="102" stroke="#33aee6" stroke-width="1.4"/>
<line x1="439.90000000000003" y1="102" x2="444.3" y2="102" stroke="#33aee6" stroke-width="1.3"/>
<line x1="444.9" y1="104" x2="444.9" y2="95.4" stroke="#33aee6" stroke-width="1.4"/>
<line x1="442.7" y1="95.4" x2="447.09999999999997" y2="95.4" stroke="#33aee6" stroke-width="1.3"/>
<line x1="448.2" y1="102" x2="448.2" y2="90.5" stroke="#33aee6" stroke-width="1.4"/>
<line x1="446.0" y1="90.5" x2="450.4" y2="90.5" stroke="#33aee6" stroke-width="1.3"/>
<line x1="451.2" y1="100.4" x2="451.2" y2="87.2" stroke="#33aee6" stroke-width="1.4"/>
<line x1="449.0" y1="87.2" x2="453.4" y2="87.2" stroke="#33aee6" stroke-width="1.3"/>
<circle cx="370" cy="116" r="2.0" fill="#33aee6"/>
<circle cx="375.5" cy="110.5" r="2.0" fill="#33aee6"/>
<circle cx="381" cy="106" r="2.0" fill="#33aee6"/>
<circle cx="386" cy="113" r="2.0" fill="#33aee6"/>
<circle cx="391" cy="117.5" r="2.0" fill="#33aee6"/>
<circle cx="397" cy="119.4" r="2.0" fill="#33aee6"/>
<circle cx="404" cy="119.6" r="2.0" fill="#33aee6"/>
<circle cx="410" cy="119.6" r="2.0" fill="#33aee6"/>
<circle cx="416" cy="119.6" r="2.0" fill="#33aee6"/>
<circle cx="421" cy="119.3" r="2.0" fill="#33aee6"/>
<circle cx="425" cy="118.5" r="2.0" fill="#33aee6"/>
<circle cx="428" cy="117" r="2.0" fill="#33aee6"/>
<circle cx="431.4" cy="115" r="2.0" fill="#33aee6"/>
<circle cx="435.5" cy="112" r="2.0" fill="#33aee6"/>
<circle cx="439.3" cy="109" r="2.0" fill="#33aee6"/>
<circle cx="442.1" cy="106" r="2.0" fill="#33aee6"/>
<circle cx="444.9" cy="104" r="2.0" fill="#33aee6"/>
<circle cx="448.2" cy="102" r="2.0" fill="#33aee6"/>
<circle cx="451.2" cy="100.4" r="2.0" fill="#33aee6"/>
<polyline points="368.8,116.2 374.8,114.3 380,115.0 385,117.0 390,118.8 395,119.4 400,119.5 405,119.5 410,119.5 415.5,119.5" fill="none" stroke="#c61f33" stroke-width="1.5"/>
<line x1="368.8" y1="116.2" x2="368.8" y2="114.5" stroke="#c61f33" stroke-width="1.4"/>
<line x1="366.6" y1="114.5" x2="371.0" y2="114.5" stroke="#c61f33" stroke-width="1.3"/>
<line x1="374.8" y1="114.3" x2="374.8" y2="112.5" stroke="#c61f33" stroke-width="1.4"/>
<line x1="372.6" y1="112.5" x2="377.0" y2="112.5" stroke="#c61f33" stroke-width="1.3"/>
<line x1="380" y1="115.0" x2="380" y2="113.5" stroke="#c61f33" stroke-width="1.4"/>
<line x1="377.8" y1="113.5" x2="382.2" y2="113.5" stroke="#c61f33" stroke-width="1.3"/>
<circle cx="368.8" cy="116.2" r="2.0" fill="#c61f33"/>
<circle cx="374.8" cy="114.3" r="2.0" fill="#c61f33"/>
<circle cx="380" cy="115.0" r="2.0" fill="#c61f33"/>
<circle cx="385" cy="117.0" r="2.0" fill="#c61f33"/>
<circle cx="390" cy="118.8" r="2.0" fill="#c61f33"/>
<circle cx="395" cy="119.4" r="2.0" fill="#c61f33"/>
<circle cx="400" cy="119.5" r="2.0" fill="#c61f33"/>
<circle cx="405" cy="119.5" r="2.0" fill="#c61f33"/>
<circle cx="410" cy="119.5" r="2.0" fill="#c61f33"/>
<circle cx="415.5" cy="119.5" r="2.0" fill="#c61f33"/>
<polyline points="368.8,115.0 374.8,105.4 380,109.5 384.5,112.5 387.5,113.3 390.4,112.2 393.5,111.3 397.3,109.6 401.7,107.9 406,105.3 410.5,102.0 413,98.0 416.5,93.8 419.9,84.4" fill="none" stroke="#178c4a" stroke-width="1.5"/>
<line x1="368.8" y1="115.0" x2="368.8" y2="113" stroke="#178c4a" stroke-width="1.4"/>
<line x1="366.6" y1="113" x2="371.0" y2="113" stroke="#178c4a" stroke-width="1.3"/>
<line x1="374.8" y1="105.4" x2="374.8" y2="102.8" stroke="#178c4a" stroke-width="1.4"/>
<line x1="372.6" y1="102.8" x2="377.0" y2="102.8" stroke="#178c4a" stroke-width="1.3"/>
<line x1="380" y1="109.5" x2="380" y2="107.5" stroke="#178c4a" stroke-width="1.4"/>
<line x1="377.8" y1="107.5" x2="382.2" y2="107.5" stroke="#178c4a" stroke-width="1.3"/>
<line x1="384.5" y1="112.5" x2="384.5" y2="111" stroke="#178c4a" stroke-width="1.4"/>
<line x1="382.3" y1="111" x2="386.7" y2="111" stroke="#178c4a" stroke-width="1.3"/>
<line x1="387.5" y1="113.3" x2="387.5" y2="112" stroke="#178c4a" stroke-width="1.4"/>
<line x1="385.3" y1="112" x2="389.7" y2="112" stroke="#178c4a" stroke-width="1.3"/>
<line x1="390.4" y1="112.2" x2="390.4" y2="110" stroke="#178c4a" stroke-width="1.4"/>
<line x1="388.2" y1="110" x2="392.59999999999997" y2="110" stroke="#178c4a" stroke-width="1.3"/>
<line x1="393.5" y1="111.3" x2="393.5" y2="109" stroke="#178c4a" stroke-width="1.4"/>
<line x1="391.3" y1="109" x2="395.7" y2="109" stroke="#178c4a" stroke-width="1.3"/>
<line x1="397.3" y1="109.6" x2="397.3" y2="107" stroke="#178c4a" stroke-width="1.4"/>
<line x1="395.1" y1="107" x2="399.5" y2="107" stroke="#178c4a" stroke-width="1.3"/>
<line x1="401.7" y1="107.9" x2="401.7" y2="105" stroke="#178c4a" stroke-width="1.4"/>
<line x1="399.5" y1="105" x2="403.9" y2="105" stroke="#178c4a" stroke-width="1.3"/>
<line x1="406" y1="105.3" x2="406" y2="101.8" stroke="#178c4a" stroke-width="1.4"/>
<line x1="403.8" y1="101.8" x2="408.2" y2="101.8" stroke="#178c4a" stroke-width="1.3"/>
<line x1="410.5" y1="102.0" x2="410.5" y2="96.0" stroke="#178c4a" stroke-width="1.4"/>
<line x1="408.3" y1="96.0" x2="412.7" y2="96.0" stroke="#178c4a" stroke-width="1.3"/>
<line x1="413" y1="98.0" x2="413" y2="92" stroke="#178c4a" stroke-width="1.4"/>
<line x1="410.8" y1="92" x2="415.2" y2="92" stroke="#178c4a" stroke-width="1.3"/>
<line x1="416.5" y1="93.8" x2="416.5" y2="84.7" stroke="#178c4a" stroke-width="1.4"/>
<line x1="414.3" y1="84.7" x2="418.7" y2="84.7" stroke="#178c4a" stroke-width="1.3"/>
<line x1="419.9" y1="84.4" x2="419.9" y2="69.1" stroke="#178c4a" stroke-width="1.4"/>
<line x1="417.7" y1="69.1" x2="422.09999999999997" y2="69.1" stroke="#178c4a" stroke-width="1.3"/>
<circle cx="368.8" cy="115.0" r="2.0" fill="#178c4a"/>
<circle cx="374.8" cy="105.4" r="2.0" fill="#178c4a"/>
<circle cx="380" cy="109.5" r="2.0" fill="#178c4a"/>
<circle cx="384.5" cy="112.5" r="2.0" fill="#178c4a"/>
<circle cx="387.5" cy="113.3" r="2.0" fill="#178c4a"/>
<circle cx="390.4" cy="112.2" r="2.0" fill="#178c4a"/>
<circle cx="393.5" cy="111.3" r="2.0" fill="#178c4a"/>
<circle cx="397.3" cy="109.6" r="2.0" fill="#178c4a"/>
<circle cx="401.7" cy="107.9" r="2.0" fill="#178c4a"/>
<circle cx="406" cy="105.3" r="2.0" fill="#178c4a"/>
<circle cx="410.5" cy="102.0" r="2.0" fill="#178c4a"/>
<circle cx="413" cy="98.0" r="2.0" fill="#178c4a"/>
<circle cx="416.5" cy="93.8" r="2.0" fill="#178c4a"/>
<circle cx="419.9" cy="84.4" r="2.0" fill="#178c4a"/>
<polyline points="368.8,115.8 374.8,115.3 381.7,113.1 385.2,110.5 389.5,107.9 392.1,105.3 394.7,102.7 399.9,96.6 402.5,90.5 403.4,87.1 406,81.9 412.1,57.6 417,37.6" fill="none" stroke="#111111" stroke-width="1.5"/>
<line x1="368.8" y1="115.8" x2="368.8" y2="114.5" stroke="#111111" stroke-width="1.4"/>
<line x1="366.6" y1="114.5" x2="371.0" y2="114.5" stroke="#111111" stroke-width="1.3"/>
<line x1="374.8" y1="115.3" x2="374.8" y2="113.5" stroke="#111111" stroke-width="1.4"/>
<line x1="372.6" y1="113.5" x2="377.0" y2="113.5" stroke="#111111" stroke-width="1.3"/>
<line x1="381.7" y1="113.1" x2="381.7" y2="111.5" stroke="#111111" stroke-width="1.4"/>
<line x1="379.5" y1="111.5" x2="383.9" y2="111.5" stroke="#111111" stroke-width="1.3"/>
<line x1="385.2" y1="110.5" x2="385.2" y2="108.5" stroke="#111111" stroke-width="1.4"/>
<line x1="383.0" y1="108.5" x2="387.4" y2="108.5" stroke="#111111" stroke-width="1.3"/>
<line x1="389.5" y1="107.9" x2="389.5" y2="105.3" stroke="#111111" stroke-width="1.4"/>
<line x1="387.3" y1="105.3" x2="391.7" y2="105.3" stroke="#111111" stroke-width="1.3"/>
<line x1="392.1" y1="105.3" x2="392.1" y2="103" stroke="#111111" stroke-width="1.4"/>
<line x1="389.90000000000003" y1="103" x2="394.3" y2="103" stroke="#111111" stroke-width="1.3"/>
<line x1="394.7" y1="102.7" x2="394.7" y2="100.4" stroke="#111111" stroke-width="1.4"/>
<line x1="392.5" y1="100.4" x2="396.9" y2="100.4" stroke="#111111" stroke-width="1.3"/>
<line x1="399.9" y1="96.6" x2="399.9" y2="92.3" stroke="#111111" stroke-width="1.4"/>
<line x1="397.7" y1="92.3" x2="402.09999999999997" y2="92.3" stroke="#111111" stroke-width="1.3"/>
<line x1="402.5" y1="90.5" x2="402.5" y2="87" stroke="#111111" stroke-width="1.4"/>
<line x1="400.3" y1="87" x2="404.7" y2="87" stroke="#111111" stroke-width="1.3"/>
<line x1="403.4" y1="87.1" x2="403.4" y2="83.6" stroke="#111111" stroke-width="1.4"/>
<line x1="401.2" y1="83.6" x2="405.59999999999997" y2="83.6" stroke="#111111" stroke-width="1.3"/>
<line x1="406" y1="81.9" x2="406" y2="72.3" stroke="#111111" stroke-width="1.4"/>
<line x1="403.8" y1="72.3" x2="408.2" y2="72.3" stroke="#111111" stroke-width="1.3"/>
<line x1="412.1" y1="57.6" x2="412.1" y2="43.4" stroke="#111111" stroke-width="1.4"/>
<line x1="409.90000000000003" y1="43.4" x2="414.3" y2="43.4" stroke="#111111" stroke-width="1.3"/>
<line x1="417" y1="37.6" x2="417" y2="19.8" stroke="#111111" stroke-width="1.4"/>
<line x1="414.8" y1="19.8" x2="419.2" y2="19.8" stroke="#111111" stroke-width="1.3"/>
<circle cx="368.8" cy="115.8" r="2.0" fill="#111111"/>
<circle cx="374.8" cy="115.3" r="2.0" fill="#111111"/>
<circle cx="381.7" cy="113.1" r="2.0" fill="#111111"/>
<circle cx="385.2" cy="110.5" r="2.0" fill="#111111"/>
<circle cx="389.5" cy="107.9" r="2.0" fill="#111111"/>
<circle cx="392.1" cy="105.3" r="2.0" fill="#111111"/>
<circle cx="394.7" cy="102.7" r="2.0" fill="#111111"/>
<circle cx="399.9" cy="96.6" r="2.0" fill="#111111"/>
<circle cx="402.5" cy="90.5" r="2.0" fill="#111111"/>
<circle cx="403.4" cy="87.1" r="2.0" fill="#111111"/>
<circle cx="406" cy="81.9" r="2.0" fill="#111111"/>
<circle cx="412.1" cy="57.6" r="2.0" fill="#111111"/>
<circle cx="417" cy="37.6" r="2.0" fill="#111111"/>
<g>
<path d="M364,60.5 C363.6,64.5 362.6,68.5 362.3,72.5 C362.2,76.5 364.5,79.8 368.6,81.8" fill="none" stroke="#3b3532" stroke-width="1.7" stroke-linecap="round"/>
<path d="M357,57.5 C355,58 351.5,58.4 349,59.4 C348.3,60.6 349.4,61.9 351.5,62.1 C354,62.3 356.8,61.7 358.6,60.6 Z" fill="#1a1411" />
<path d="M 371.00,57.5 C 373.00,58 376.50,58.4 379.00,59.4 C 379.70,60.6 378.60,61.9 376.50,62.1 C 374.00,62.3 371.20,61.7 369.40,60.6 Z" fill="#1a1411" />
<ellipse cx="350.6" cy="60.8" rx="1.2" ry="0.7" fill="#cfc5b6"/>
<ellipse cx="377.4" cy="60.8" rx="1.2" ry="0.7" fill="#cfc5b6"/>
<path d="M364,20.5 C363.4,20.5 362.9,20.6 362.6,20.7 C360.6,21.3 359.3,23.6 358.9,27 C356.5,28 354.8,30.5 354.4,33.5 C354.2,36 355.2,37.8 356.2,39.5 C354,42 352.4,46 352.2,50 C352.1,54 353.5,58.5 357,61.3 L364,61.3 Z" fill="#17110e" />
<path d="M 364.00,20.5 C 364.60,20.5 365.10,20.6 365.40,20.7 C 367.40,21.3 368.70,23.6 369.10,27 C 371.50,28 373.20,30.5 373.60,33.5 C 373.80,36 372.80,37.8 371.80,39.5 C 374.00,42 375.60,46 375.80,50 C 375.90,54 374.50,58.5 371.00,61.3 L 364.00,61.3 Z" fill="#17110e" />
<rect x="361" y="22" width="6" height="39" fill="#17110e"/>
<path d="M356.8,40.5 C354.8,42.5 353.2,45.5 352.8,49.5 C352.6,53 353.4,56 356.4,58.4 C358.3,55.5 359,51 359,47 C359,44 358.4,42 356.8,40.5 Z" fill="#a38e75" />
<path d="M 371.20,40.5 C 373.20,42.5 374.80,45.5 375.20,49.5 C 375.40,53 374.60,56 371.60,58.4 C 369.70,55.5 369.00,51 369.00,47 C 369.00,44 369.60,42 371.20,40.5 Z" fill="#a38e75" />
<path d="M354.2,47 C353.6,50 353.8,53.5 355,56 C356.7,54.5 357.6,51.5 357.5,48.5 C357.3,46.2 355,45.5 354.2,47 Z" fill="#cbbfaa" />
<path d="M 373.80,47 C 374.40,50 374.20,53.5 373.00,56 C 371.30,54.5 370.40,51.5 370.50,48.5 C 370.70,46.2 373.00,45.5 373.80,47 Z" fill="#cbbfaa" />
<path d="M358.9,28.4 C356.8,29.6 355.6,31.8 355.6,34.4 C356.1,36.8 357.7,37.4 359.3,36.8 L359.8,30.5 Z" fill="#9c8064" />
<path d="M 369.10,28.4 C 371.20,29.6 372.40,31.8 372.40,34.4 C 371.90,36.8 370.30,37.4 368.70,36.8 L 368.20,30.5 Z" fill="#9c8064" />
<ellipse cx="357.3" cy="34.2" rx="1.3" ry="1.05" fill="#e9e2d6"/>
<ellipse cx="370.7" cy="34.2" rx="1.3" ry="1.05" fill="#e9e2d6"/>
<path d="M358.4,20.2 C361,19.5 367,19.5 369.4,20.2 C367,20.9 361,20.9 358.4,20.2 Z" fill="#c8b49a"/><ellipse cx="364" cy="23.5" rx="2.2" ry="2.2" fill="#3a2e26" opacity="0.6"/>
</g>
<path d="M348.3,46.6 L337,46.9 Q333,47.5 330.5,52" fill="none" stroke="#222" stroke-width="0.9" stroke-dasharray="1.1,0.9"/>
<path d="M327.8,54.8 L329.2,50.3 L332.3,52.6 Z" fill="#111"/>
<path d="M379.2,46.6 L390,46.9 Q394,47.5 396.8,52" fill="none" stroke="#222" stroke-width="0.9" stroke-dasharray="1.1,0.9"/>
<path d="M399.3,54.5 L394.8,52.6 L398.0,50.4 Z" fill="#111"/>
<text x="214.4" y="179.6" font-size="16.8" font-weight="bold" fill="#000" >D</text>
<line x1="257.2" y1="184.4" x2="257.2" y2="281.6" stroke="#111" stroke-width="1.4" />
<line x1="256.5" y1="281.0" x2="474.6" y2="281.0" stroke="#111" stroke-width="1.4" />
<line x1="253.6" y1="281.0" x2="257.2" y2="281.0" stroke="#111" stroke-width="1.2" />
<text x="252.2" y="284.30" font-size="9.3" text-anchor="end" fill="#111">0</text>
<line x1="253.6" y1="261.806" x2="257.2" y2="261.806" stroke="#111" stroke-width="1.2" />
<text x="252.2" y="265.11" font-size="9.3" text-anchor="end" fill="#111">20</text>
<line x1="253.6" y1="242.612" x2="257.2" y2="242.612" stroke="#111" stroke-width="1.2" />
<text x="252.2" y="245.91" font-size="9.3" text-anchor="end" fill="#111">40</text>
<line x1="253.6" y1="223.418" x2="257.2" y2="223.418" stroke="#111" stroke-width="1.2" />
<text x="252.2" y="226.72" font-size="9.3" text-anchor="end" fill="#111">60</text>
<line x1="253.6" y1="204.224" x2="257.2" y2="204.224" stroke="#111" stroke-width="1.2" />
<text x="252.2" y="207.52" font-size="9.3" text-anchor="end" fill="#111">80</text>
<line x1="253.6" y1="185.03" x2="257.2" y2="185.03" stroke="#111" stroke-width="1.2" />
<text x="252.2" y="188.33" font-size="9.3" text-anchor="end" fill="#111">100</text>
<line x1="257.5" y1="281.0" x2="257.5" y2="284.0" stroke="#111" stroke-width="1.2" />
<text x="257.50" y="296.2" font-size="9.3" text-anchor="middle" fill="#111" >0</text>
<line x1="293.67" y1="281.0" x2="293.67" y2="284.0" stroke="#111" stroke-width="1.2" />
<text x="293.67" y="296.2" font-size="9.3" text-anchor="middle" fill="#111" >20</text>
<line x1="329.84000000000003" y1="281.0" x2="329.84000000000003" y2="284.0" stroke="#111" stroke-width="1.2" />
<text x="329.84" y="296.2" font-size="9.3" text-anchor="middle" fill="#111" >40</text>
<line x1="366.01" y1="281.0" x2="366.01" y2="284.0" stroke="#111" stroke-width="1.2" />
<text x="366.01" y="296.2" font-size="9.3" text-anchor="middle" fill="#111" >60</text>
<line x1="402.18" y1="281.0" x2="402.18" y2="284.0" stroke="#111" stroke-width="1.2" />
<text x="402.18" y="296.2" font-size="9.3" text-anchor="middle" fill="#111" >80</text>
<line x1="438.35" y1="281.0" x2="438.35" y2="284.0" stroke="#111" stroke-width="1.2" />
<text x="438.35" y="296.2" font-size="9.3" text-anchor="middle" fill="#111" >100</text>
<line x1="474.52" y1="281.0" x2="474.52" y2="284.0" stroke="#111" stroke-width="1.2" />
<text x="474.52" y="296.2" font-size="9.3" text-anchor="middle" fill="#111" >120</text>
<text x="366.0" y="310.8" font-size="10.3" text-anchor="middle" fill="#111" >Days post challenge TRAMP-C2</text>
<text transform="translate(227.5,233) rotate(-90)" font-size="10.2" text-anchor="middle" fill="#111">Percent survival</text>
<polyline points="371.42,185.03 378.66,185.03 378.66,191.43 382.27,191.43 382.27,197.83 399.81,197.83 399.81,204.22 407.59,204.22 407.59,210.62 467.81,210.62 467.81,217.02 474.50,217.02" fill="none" stroke="#6b2d8b" stroke-width="1.5"/>
<circle cx="378.66" cy="191.43" r="2.35" fill="#6b2d8b"/>
<circle cx="382.27" cy="197.83" r="2.35" fill="#6b2d8b"/>
<circle cx="399.81" cy="204.22" r="2.35" fill="#6b2d8b"/>
<circle cx="407.59" cy="210.62" r="2.35" fill="#6b2d8b"/>
<circle cx="467.81" cy="217.02" r="2.35" fill="#6b2d8b"/>
<circle cx="474.50" cy="217.02" r="2.35" fill="#6b2d8b"/>
<polyline points="339.78,185.03 374.68,185.03 374.68,191.43 378.66,191.43 378.66,197.83 399.81,197.83 399.81,204.22 407.59,204.22 407.59,210.62 474.50,210.62" fill="none" stroke="#37abe3" stroke-width="1.5"/>
<circle cx="374.68" cy="191.43" r="2.35" fill="#37abe3"/>
<circle cx="378.66" cy="197.83" r="2.35" fill="#37abe3"/>
<circle cx="399.81" cy="204.22" r="2.35" fill="#37abe3"/>
<circle cx="407.59" cy="210.62" r="2.35" fill="#37abe3"/>
<circle cx="474.50" cy="210.62" r="2.35" fill="#37abe3"/>
<polyline points="336.88,185.03 340.86,185.03 340.86,191.43 347.01,191.43 347.01,210.62 352.25,210.62 352.25,217.02 362.02,217.02 362.02,223.42 371.24,223.42 371.24,229.82 381.91,229.82 381.91,236.21 418.26,236.21 418.26,242.61 474.50,242.61" fill="none" stroke="#5f8d31" stroke-width="1.5"/>
<circle cx="340.86" cy="191.43" r="2.35" fill="#5f8d31"/>
<circle cx="347.01" cy="210.62" r="2.35" fill="#5f8d31"/>
<circle cx="352.25" cy="217.02" r="2.35" fill="#5f8d31"/>
<circle cx="362.02" cy="223.42" r="2.35" fill="#5f8d31"/>
<circle cx="371.24" cy="229.82" r="2.35" fill="#5f8d31"/>
<circle cx="381.91" cy="236.21" r="2.35" fill="#5f8d31"/>
<circle cx="418.26" cy="242.61" r="2.35" fill="#5f8d31"/>
<circle cx="474.50" cy="242.61" r="2.35" fill="#5f8d31"/>
<polyline points="336.88,185.03 336.88,185.03 336.88,194.63 343.94,194.63 343.94,204.22 355.15,204.22 355.15,213.82 357.14,213.82 357.14,223.42 360.93,223.42 360.93,242.61 367.99,242.61 367.99,252.21 380.83,252.21 380.83,261.81 405.78,261.81 405.78,271.40 461.84,271.40 461.84,281.00" fill="none" stroke="#aa1740" stroke-width="1.5"/>
<circle cx="336.88" cy="194.63" r="2.35" fill="#aa1740"/>
<circle cx="343.94" cy="204.22" r="2.35" fill="#aa1740"/>
<circle cx="355.15" cy="213.82" r="2.35" fill="#aa1740"/>
<circle cx="357.14" cy="223.42" r="2.35" fill="#aa1740"/>
<circle cx="360.93" cy="242.61" r="2.35" fill="#aa1740"/>
<circle cx="367.99" cy="252.21" r="2.35" fill="#aa1740"/>
<circle cx="380.83" cy="261.81" r="2.35" fill="#aa1740"/>
<circle cx="405.78" cy="271.40" r="2.35" fill="#aa1740"/>
<circle cx="461.84" cy="281.00" r="2.35" fill="#aa1740"/>
<polyline points="257.50,185.03 336.88,185.03 336.88,191.88 340.68,191.88 340.68,198.74 342.49,198.74 342.49,205.59 344.30,205.59 344.30,212.45 349.00,212.45 349.00,226.16 350.99,226.16 350.99,233.01 352.62,233.01 352.62,246.72 358.58,246.72 358.58,253.58 364.37,253.58 364.37,260.44 365.64,260.44 365.64,267.29 376.85,267.29 376.85,274.14 380.46,274.14 380.46,281.00" fill="none" stroke="#141414" stroke-width="1.5"/>
<circle cx="336.88" cy="191.88" r="2.35" fill="#141414"/>
<circle cx="340.68" cy="198.74" r="2.35" fill="#141414"/>
<circle cx="342.49" cy="205.59" r="2.35" fill="#141414"/>
<circle cx="344.30" cy="212.45" r="2.35" fill="#141414"/>
<circle cx="349.00" cy="226.16" r="2.35" fill="#141414"/>
<circle cx="350.99" cy="233.01" r="2.35" fill="#141414"/>
<circle cx="352.62" cy="246.72" r="2.35" fill="#141414"/>
<circle cx="358.58" cy="253.58" r="2.35" fill="#141414"/>
<circle cx="364.37" cy="260.44" r="2.35" fill="#141414"/>
<circle cx="365.64" cy="267.29" r="2.35" fill="#141414"/>
<circle cx="376.85" cy="274.14" r="2.35" fill="#141414"/>
<circle cx="380.46" cy="281.00" r="2.35" fill="#141414"/>
<path d="M480.7,209.9 H499.1 V242.3 H493.5" fill="none" stroke="#111" stroke-width="1.3"/>
<path d="M480.7,216.3 H487.4 V242.3 H480.7" fill="none" stroke="#111" stroke-width="1.3"/>
<text x="491.8" y="236.4" font-size="12.5" text-anchor="middle" fill="#111" >*</text>
<text x="504.9" y="232.9" font-size="12.5" text-anchor="middle" fill="#111" >*</text>
<line x1="252.1" y1="329.6" x2="267.3" y2="329.6" stroke="#141414" stroke-width="1.4" />
<circle cx="259.60" cy="329.6" r="2.0" fill="#141414"/>
<text x="276.30" y="333.20" font-size="10.2" fill="#111" >Untreated</text>
<line x1="252.1" y1="347.7" x2="267.3" y2="347.7" stroke="#aa1740" stroke-width="1.4" />
<circle cx="259.60" cy="347.7" r="2.0" fill="#aa1740"/>
<text x="276.30" y="351.30" font-size="10.2" fill="#111" >CDG (R)</text>
<line x1="252.1" y1="365.2" x2="267.3" y2="365.2" stroke="#5f8d31" stroke-width="1.4" />
<circle cx="259.60" cy="365.2" r="2.0" fill="#5f8d31"/>
<text x="276.30" y="368.80" font-size="10.2" fill="#111" >Combo IP</text>
<line x1="347.0" y1="329.6" x2="362.2" y2="329.6" stroke="#37abe3" stroke-width="1.4" />
<circle cx="354.50" cy="329.6" r="2.0" fill="#37abe3"/>
<text x="371.20" y="333.20" font-size="10.2" fill="#111" >Combo IP + CDG (R)</text>
<line x1="347.0" y1="347.7" x2="362.2" y2="347.7" stroke="#6b2d8b" stroke-width="1.4" />
<circle cx="354.50" cy="347.7" r="2.0" fill="#6b2d8b"/>
<text x="371.20" y="351.30" font-size="10.2" fill="#111" >Combo IP + CDG (R&amp;L)</text>
</svg>
</body></html>
